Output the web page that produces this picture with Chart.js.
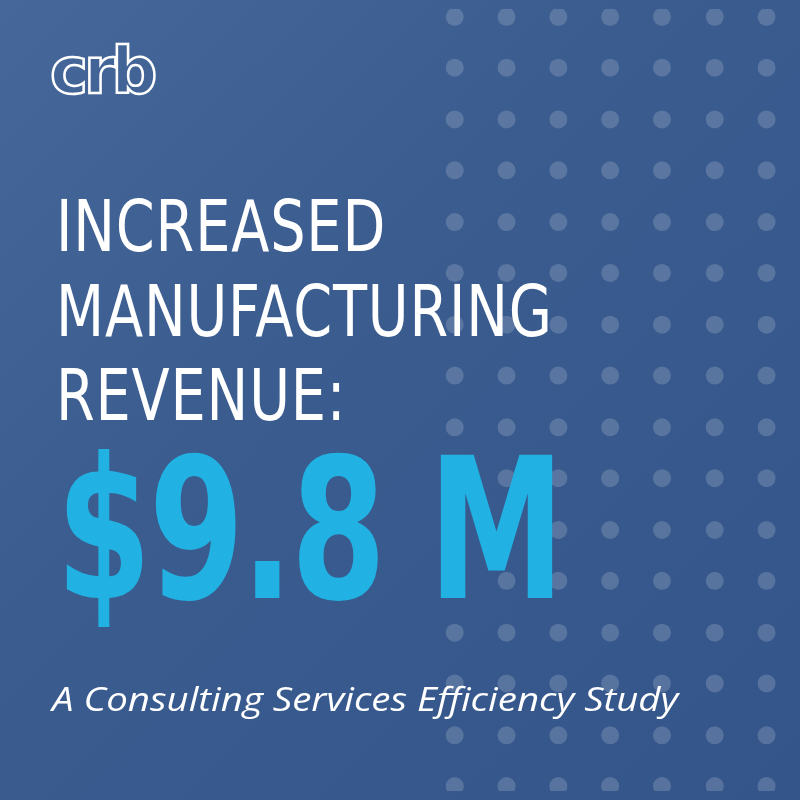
<!DOCTYPE html>
<html><head><meta charset="utf-8">
<script src="https://cdn.jsdelivr.net/npm/chart.js@4"></script>
<style>
html,body{margin:0;padding:0;width:800px;height:800px;overflow:hidden}
#wrap{position:relative;width:800px;height:800px;background:linear-gradient(135deg,#46679a 0%,#3a5c8f 40%,#34558a 100%)}
canvas{position:absolute;left:0;top:0}
.t{position:absolute;color:#fff;white-space:nowrap}
#title{left:56px;top:184px;font-family:"DejaVu Sans Condensed",sans-serif;font-size:72px;line-height:84.5px;letter-spacing:1px;transform:scaleX(0.86);transform-origin:left top}
#big{left:56px;top:420px;font-family:"DejaVu Sans",sans-serif;font-weight:bold;font-size:196px;line-height:220px;color:#21b2e3;letter-spacing:-4px;word-spacing:0px;transform:scaleX(0.70);transform-origin:left top}
#sub{left:52px;top:676px;font-family:"Open Sans",sans-serif;font-style:italic;font-size:33px;transform:scaleX(1.165);transform-origin:left top}
#logo{left:50px;top:36px;font-family:"DejaVu Sans",sans-serif;font-weight:bold;font-size:64px;color:transparent;-webkit-text-stroke:2.5px #fff;letter-spacing:-4px;line-height:70px}
</style></head><body>
<div id="wrap"><canvas id="c" width="800" height="800"></canvas>
<div class="t" id="logo">crb</div>
<div class="t" id="title">INCREASED<br>MANUFACTURING<br>REVENUE:</div>
<div class="t" id="big">$9.8 M</div>
<div class="t" id="sub">A Consulting Services Efficiency Study</div>
</div>
<script>
const dotColumns=[456,509,562,615,668,722,775];
const dotRows=[8,60,113,165,218,270,323,375,428,480,533,585,638,690,743,795];
const points=[];
dotRows.forEach(y=>dotColumns.forEach(x=>points.push({x:x,y:y})));
new Chart(document.getElementById('c'),{
 type:'scatter',
 data:{datasets:[{data:points,pointRadius:9,pointHoverRadius:9,backgroundColor:'rgba(255,255,255,0.17)',borderWidth:0}]},
 options:{responsive:false,animation:false,layout:{padding:0},
  plugins:{legend:{display:false},tooltip:{enabled:false}},
  scales:{x:{type:'linear',min:0,max:800,display:false},y:{type:'linear',min:0,max:800,reverse:true,display:false}}}
});
</script></body></html>
